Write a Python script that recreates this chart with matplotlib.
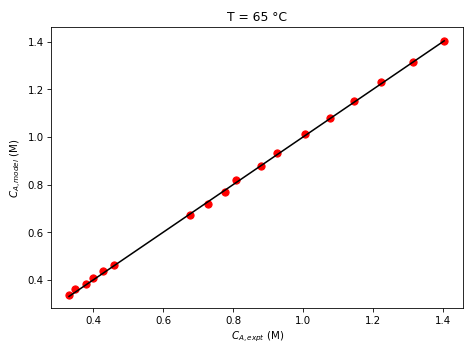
import matplotlib
matplotlib.use('Agg')
import matplotlib.pyplot as plt
import numpy as np

# concentrations (M)
ca_expt = [0.331, 0.348, 0.380, 0.400, 0.429, 0.460, 0.678, 0.727, 0.778, 0.807,
           0.879, 0.924, 1.005, 1.076, 1.145, 1.222, 1.314, 1.403]
ca_model = [0.337, 0.362, 0.383, 0.408, 0.438, 0.463, 0.673, 0.719, 0.770, 0.820,
            0.879, 0.934, 1.013, 1.080, 1.152, 1.232, 1.316, 1.404]

fig = plt.figure(figsize=(6.4, 4.8), dpi=74.06)
plt.plot(ca_expt, ca_model, 'o', color='red', markersize=7)
line_x = np.array([min(ca_expt), max(ca_expt)])
plt.plot(line_x, line_x, color='black', linewidth=1.5)
plt.title("T = 65 °C")
plt.xlabel(r"$C_{A,expt}$ (M)")
plt.ylabel(r"$C_{A,model}$ (M)")
plt.xlim(0.28, 1.457)
plt.ylim(0.282, 1.463)
plt.subplots_adjust(left=0.108, right=0.977, top=0.924, bottom=0.132)
plt.savefig('out.png', dpi=74.06)
